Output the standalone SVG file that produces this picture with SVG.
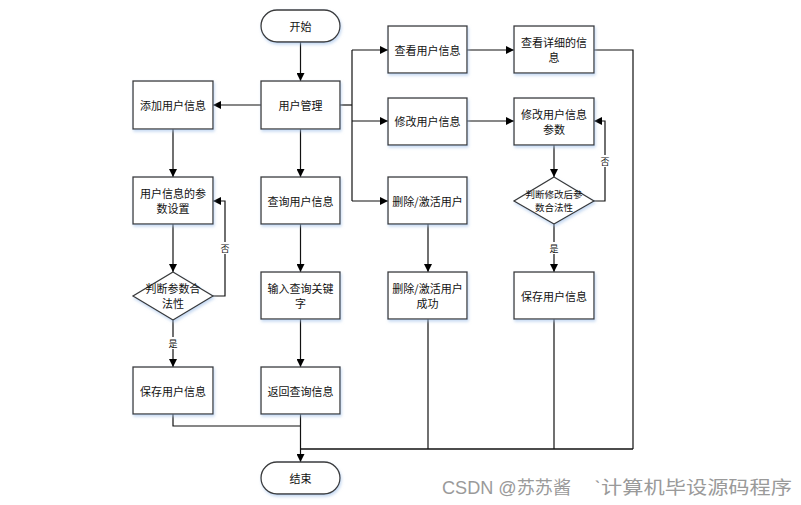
<svg xmlns="http://www.w3.org/2000/svg" width="801" height="505" viewBox="0 0 801 505">
<style>
.box{fill:#fff;stroke:#3a3a3a;stroke-width:1.3;filter:url(#sh)}
.t{font-family:"Noto Sans CJK SC","Liberation Sans",sans-serif;font-size:11px;fill:#111;text-anchor:middle;dominant-baseline:central}
.ts{font-size:9.5px}
.lbl{font-family:"Noto Sans CJK SC","Liberation Sans",sans-serif;font-size:9px;fill:#111;text-anchor:middle;dominant-baseline:central}
.c{fill:none;stroke:#111;stroke-width:1.2}
.a{marker-end:url(#ar)}
.wm{font-family:"Liberation Sans","Noto Sans CJK SC",sans-serif;font-size:18px;fill:#9a9a9a}
</style>
<defs>
<marker id="ar" viewBox="0 0 10 10" refX="10" refY="5" markerWidth="8" markerHeight="8" markerUnits="userSpaceOnUse" orient="auto">
<path d="M0,0 L10,5 L0,10 z" fill="#000"/>
</marker>
<filter id="sh" x="-10%" y="-10%" width="125%" height="130%">
<feDropShadow dx="1" dy="2" stdDeviation="1.5" flood-color="#9fc0e8" flood-opacity="0.6"/>
</filter>
</defs>
<rect width="801" height="505" fill="#fff"/>

<g id="connectors">
<path class="c a" d="M300.5,42 V81"/>
<path class="c a" d="M261,105 H213"/>
<path class="c a" d="M173,129 V177"/>
<path class="c a" d="M173,224 V272"/>
<path class="c a" d="M213,296 H225 V201 H213"/>
<path class="c a" d="M173,320 V367"/>
<path class="c" d="M173,414 V426 H300.5"/>
<path class="c a" d="M300.5,129 V177"/>
<path class="c a" d="M300.5,224 V272"/>
<path class="c a" d="M300.5,319 V367"/>
<path class="c a" d="M300.5,414 V462"/>
<path class="c" d="M340,105 H352"/>
<path class="c" d="M352,50 V201"/>
<path class="c a" d="M352,50 H388"/>
<path class="c a" d="M352,121 H388"/>
<path class="c a" d="M352,201 H388"/>
<path class="c a" d="M467,50 H514"/>
<path class="c a" d="M467,121 H514"/>
<path class="c a" d="M554,145 V177"/>
<path class="c a" d="M594,201 H605 V121 H594"/>
<path class="c a" d="M554,224 V272"/>
<path class="c a" d="M428,224 V272"/>
<path class="c" d="M428,319 V449"/>
<path class="c" d="M554,319 V449"/>
<path class="c" d="M594,50 H633 V449"/>
<path class="c" d="M633,449 H300.5" style="stroke-width:1.6"/>
<rect x="219" y="242" width="12" height="12" fill="#fff"/>
<text class="lbl" x="225" y="248">否</text>
<rect x="167" y="337" width="12" height="12" fill="#fff"/>
<text class="lbl" x="173" y="343">是</text>
<rect x="599" y="155" width="12" height="12" fill="#fff"/>
<text class="lbl" x="605" y="161">否</text>
<rect x="548" y="242" width="12" height="12" fill="#fff"/>
<text class="lbl" x="554" y="248">是</text>
</g>

<g id="start"><rect class="box" x="261" y="10" width="79" height="32" rx="16"/><text class="t" x="300.5" y="26">开始</text></g>
<g id="user-mgmt"><rect class="box" x="261" y="81" width="79" height="48"/><text class="t" x="300.5" y="105">用户管理</text></g>
<g id="add-user"><rect class="box" x="133" y="81" width="80" height="48"/><text class="t" x="173" y="105">添加用户信息</text></g>
<g id="param-set"><rect class="box" x="133" y="177" width="80" height="47"/><text class="t" x="173" y="193">用户信息的参</text><text class="t" x="173" y="207.5">数设置</text></g>
<g id="check1"><path class="box" d="M173,272 L213,296 L173,320 L133,296 Z"/><text class="t" x="173" y="288">判断参数合</text><text class="t" x="173" y="303">法性</text></g>
<g id="save1"><rect class="box" x="133" y="367" width="80" height="47"/><text class="t" x="173" y="390.5">保存用户信息</text></g>
<g id="query"><rect class="box" x="261" y="177" width="79" height="47"/><text class="t" x="300.5" y="200.5">查询用户信息</text></g>
<g id="input-key"><rect class="box" x="261" y="272" width="79" height="47"/><text class="t" x="300.5" y="288">输入查询关键</text><text class="t" x="300.5" y="303">字</text></g>
<g id="return"><rect class="box" x="261" y="367" width="79" height="47"/><text class="t" x="300.5" y="390.5">返回查询信息</text></g>
<g id="end"><rect class="box" x="261" y="462" width="79" height="32" rx="16"/><text class="t" x="300.5" y="478">结束</text></g>
<g id="view"><rect class="box" x="388" y="26" width="79" height="47"/><text class="t" x="427.5" y="49.5">查看用户信息</text></g>
<g id="view-detail"><rect class="box" x="514" y="26" width="80" height="47"/><text class="t" x="554" y="42">查看详细的信</text><text class="t" x="554" y="57">息</text></g>
<g id="modify"><rect class="box" x="388" y="98" width="79" height="47"/><text class="t" x="427.5" y="121">修改用户信息</text></g>
<g id="modify-param"><rect class="box" x="514" y="98" width="80" height="47"/><text class="t" x="554" y="113.5">修改用户信息</text><text class="t" x="554" y="128.5">参数</text></g>
<g id="check2"><path class="box" d="M554,177 L594,201 L554,224 L514,201 Z"/><text class="t ts" x="554" y="193.5">判断修改后参</text><text class="t ts" x="554" y="206.5">数合法性</text></g>
<g id="save2"><rect class="box" x="514" y="272" width="80" height="47"/><text class="t" x="554" y="295.5">保存用户信息</text></g>
<g id="delete"><rect class="box" x="388" y="177" width="79" height="47"/><text class="t" x="427.5" y="200.5">删除/激活用户</text></g>
<g id="delete-ok"><rect class="box" x="388" y="272" width="79" height="47"/><text class="t" x="427.5" y="288">删除/激活用户</text><text class="t" x="427.5" y="303">成功</text></g>

<text class="wm" x="442" y="494" textLength="129" lengthAdjust="spacingAndGlyphs">CSDN @苏苏酱</text>
<text class="wm" x="594" y="494" textLength="198" lengthAdjust="spacingAndGlyphs">ˋ计算机毕设源码程序</text>
</svg>
